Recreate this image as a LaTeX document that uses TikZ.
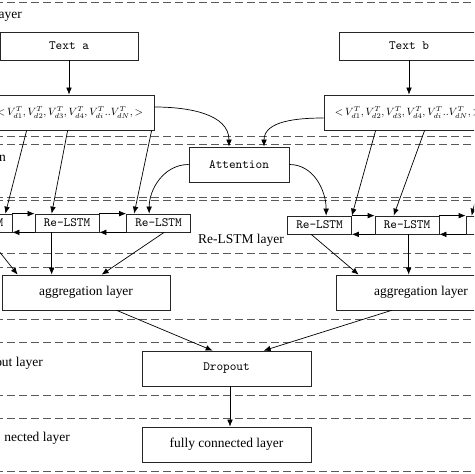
\documentclass[tikz,border=0pt]{standalone}
\usepackage{fontspec}
\setmainfont{Liberation Serif}
\usetikzlibrary{arrows.meta,calc}

\newcommand{\featseq}{$\mathord{<}\,V^T_{d1},V^T_{d2},V^T_{d3},V^T_{d4},V^T_{di}..V^T_{dN},\mathord{>}$}

\begin{document}
\begin{tikzpicture}[x=0.03cm, y=0.03cm,
	conn/.style={-{Latex[length=2.1mm,width=1.7mm]}, line width=0.6pt},
	layerline/.style={dash pattern=on 0.24cm off 0.12cm, line width=0.8pt, black!65},
	box/.style={draw=black!85, line width=0.6pt, inner sep=0pt, minimum height=1.05cm},
	mono/.style={box, font=\ttfamily\fontsize{10.8}{12}\selectfont},
	serif/.style={box, font=\fontsize{11.5}{13}\selectfont},
	lstm/.style={mono, minimum width=1.92cm, minimum height=0.54cm},
	lbl/.style={font=\fontsize{11.5}{13}\selectfont, inner sep=0pt}]
		\useasboundingbox (0,0) rectangle (474,474);
		\clip (0,0) rectangle (474,474);
		% layer borders
		\foreach \y in {472,338,330,277,274,221,207,155,132,79,56,3}
			\draw[layerline] (-5,\y) -- (480,\y);
		% layer names
		\node[lbl, anchor=east] (lin) at (22,457) {ayer};
		\node[lbl, anchor=east] (latt) at (6,316) {n};
		\node[lbl] (llstm) at (241,234) {Re-LSTM layer};
		\node[lbl, anchor=east] (ldrop) at (43,111) {out layer};
		\node[lbl, anchor=east] (lfc) at (70,36) {nected layer};
		% input texts
		\node[mono, minimum width=4.14cm, minimum height=0.84cm] (texta) at (69,428) {Text a};
		\node[mono, minimum width=4.2cm, minimum height=0.84cm] (textb) at (409,428) {Text b};
		% word vectors
		\node[box, minimum width=5.04cm, font=\fontsize{9}{11}\selectfont] (veca) at (70,361.5) {\featseq};
		\node[box, minimum width=5.04cm, font=\fontsize{9}{11}\selectfont] (vecb) at (408,361.5) {\featseq};
		% attention
		\node[mono, minimum width=3cm] (att) at (239,309.5) {Attention};
		% Re-LSTM cells
		\foreach \n/\x in {L0/-20, L1/67, L2/158.5}
			\node[lstm] (\n) at (\x,251) {Re-LSTM};
		\foreach \n/\x in {R1/319.5, R2/407, R3/498}
			\node[lstm] (\n) at (\x,249) {Re-LSTM};
		\foreach \a/\b in {L0/L1, L1/L2, R1/R2, R2/R3} {
			\draw[conn] (\a.north east) -- (\b.north west);
			\draw[conn] (\b.south west) -- (\a.south east);
		}
		% aggregation, dropout, output
		\node[serif, minimum width=5.04cm] (agga) at (86,181.5) {aggregation layer};
		\node[serif, minimum width=5.1cm] (aggb) at (421,181.5) {aggregation layer};
		\node[mono, minimum width=5.07cm] (drop) at (226.5,105.5) {Dropout};
		\node[serif, minimum width=5.07cm] (fc) at (226.5,29.5) {fully connected layer};
		% connectors
		\draw[conn] (texta.south) -- (texta.south |- veca.north);
		\draw[conn] (textb.south) -- (textb.south |- vecb.north);
		\draw[conn] ($(veca.east)+(0,5.5)$) to[out=0,in=90] ($(att.north)+(-10,0)$);
		\draw[conn] ($(vecb.west)+(0,-5.5)$) to[out=180,in=90] ($(att.north)+(25,0)$);
		\draw[conn] (att.west) to[out=180,in=90] ($(L2.north west)+(23,0)$);
		\draw[conn] (att.east) to[out=0,in=90] ($(R1.north west)+(39,0)$);
		\draw[conn] ($(veca.south west)+(41,0)$) -- ($(L0.north east)+(-7,0)$);
		\draw[conn] ($(veca.south west)+(82,0)$) -- ($(L1.north west)+(17,0)$);
		\draw[conn] ($(veca.south west)+(166,0)$) -- ($(L2.north west)+(8,0)$);
		\draw[conn] ($(vecb.south west)+(52,0)$) -- (R1.north east);
		\draw[conn] ($(vecb.south west)+(101,0)$) -- ($(R2.north west)+(19,0)$);
		\draw[conn] (vecb.south east) -- ($(R3.north west)+(6,0)$);
		\coordinate (l1out) at ($(L1.south west)+(17,0)$);
		\coordinate (r2out) at ($(R2.south west)+(34,0)$);
		\coordinate (dout) at ($(drop.south)+(3.5,0)$);
		\draw[conn] ($(L0.south)+(4,0)$) -- ($(agga.north west)+(16,0)$);
		\draw[conn] (l1out) -- (l1out |- agga.north);
		\draw[conn] ($(L2.south west)+(38,0)$) -- ($(agga.north west)+(100,0)$);
		\draw[conn] ($(R1.south west)+(24,0)$) -- ($(aggb.north west)+(23,0)$);
		\draw[conn] (r2out) -- (r2out |- aggb.north);
		\draw[conn] ($(agga.south west)+(115,0)$) -- ($(drop.north west)+(71,0)$);
		\draw[conn] ($(aggb.south west)+(56,0)$) -- ($(drop.north west)+(122,0)$);
		\draw[conn] (dout) -- (dout |- fc.north);
	\end{tikzpicture}
\end{document}
